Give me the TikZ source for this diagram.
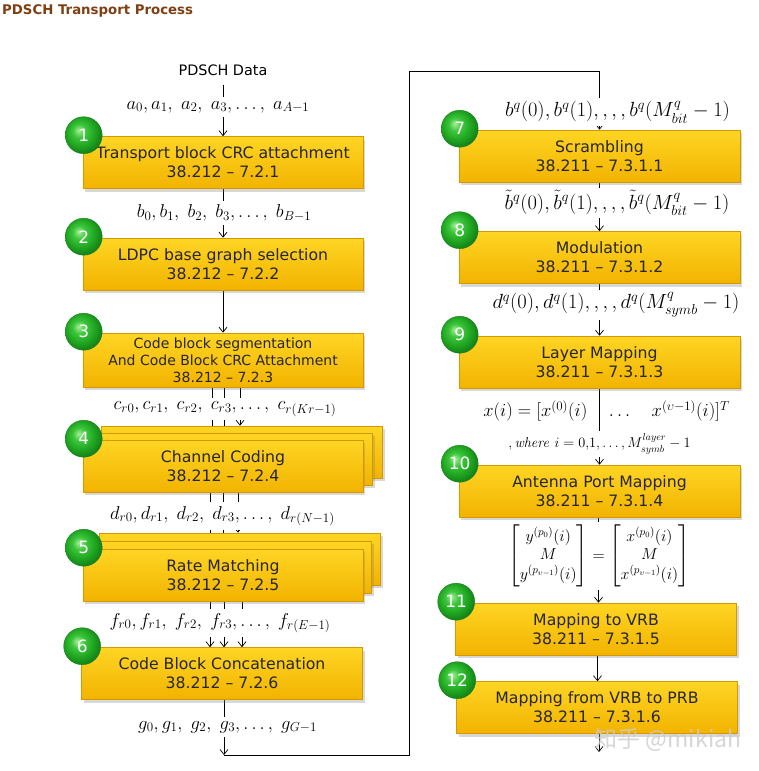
\RequirePackage{fix-cm}
\documentclass[tikz,border=0pt]{standalone}
\usepackage{amsmath}
\usepackage[no-math]{fontspec}
\setmainfont{DejaVu Sans}
\newfontfamily\cjkfont{Noto Sans CJK SC}
\usetikzlibrary{arrows.meta,shadows,backgrounds}
\definecolor{titlebrown}{HTML}{7F3F12}
\definecolor{boxtop}{HTML}{FFD524}
\definecolor{boxbot}{HTML}{F2B300}
\definecolor{boxedge}{HTML}{D29A00}
\definecolor{gA}{HTML}{A6EE96}
\definecolor{gB}{HTML}{3CC63C}
\definecolor{gC}{HTML}{1FA31F}
\definecolor{gD}{HTML}{13801A}
\pgfdeclareradialshading{greenball}{\pgfpoint{-7bp}{7bp}}{color(0bp)=(gA); color(9bp)=(gB); color(20bp)=(gC); color(28bp)=(gD); color(50bp)=(gD)}
\tikzset{
  boxbase/.style={rectangle, top color=boxtop, bottom color=boxbot, draw=boxedge,
    line width=0.6pt, inner sep=0pt,
    drop shadow={shadow xshift=2pt, shadow yshift=-3pt, opacity=0.3}},
  procbox/.style={boxbase, minimum width=280pt, minimum height=52pt, align=center,
    text=black!85, font=\fontsize{15.7}{19}\selectfont},
  layerbox/.style={boxbase, minimum width=281pt, minimum height=52pt},
  stepnum/.style={circle, minimum size=37pt, inner sep=0pt, shading=greenball,
    draw=gD, line width=0.4pt, text=white, font=\fontsize{17}{17}\selectfont},
  lbl/.style={fill=white, inner xsep=1.5pt, inner ysep=4pt, font=\fontsize{18.6}{22}\selectfont},
  rlbl/.style={fill=white, inner xsep=1.5pt, inner ysep=2.5pt, font=\fontsize{20.5}{24}\selectfont},
  conn/.style={line width=0.7pt, draw=black},
  arr/.style={conn, -{Straight Barb[length=5pt,width=8pt]}},
}
\begin{document}
\begin{tikzpicture}[x=1pt,y=-1pt]
\useasboundingbox (0,0) rectangle (759,771);

\node[anchor=west, font=\bfseries\fontsize{13.3}{15}\selectfont, text=titlebrown, inner sep=0pt] (title) at (2,11) {PDSCH Transport Process};

% ---------- left column ----------
\node[fill=white, inner xsep=2pt, inner ysep=9pt, font=\fontsize{14.4}{17}\selectfont] (pdsch) at (223,70) {PDSCH Data};

\node[procbox] (b1) at (223,162.5) {Transport block CRC attachment\\38.212 -- 7.2.1};
\node[procbox] (b2) at (223,264) {LDPC base graph selection\\38.212 -- 7.2.2};
\node[procbox, minimum height=54pt, font=\fontsize{14}{17}\selectfont] (b3) at (223,360) {Code block segmentation\\And Code Block CRC Attachment\\38.212 -- 7.2.3};

\node[layerbox] (b4c) at (242,452) {};
\node[layerbox] (b4b) at (232,459) {};
\node[procbox] (b4) at (223,466) {Channel Coding\\38.212 -- 7.2.4};

\node[layerbox] (b5c) at (240,559) {};
\node[layerbox] (b5b) at (231,567) {};
\node[procbox] (b5) at (223,575) {Rate Matching\\38.212 -- 7.2.5};

\node[procbox, minimum width=281pt] (b6) at (222,673.5) {Code Block Concatenation\\38.212 -- 7.2.6};

% ---------- right column ----------
\node[procbox, minimum width=281pt] (b7) at (599.5,156) {Scrambling\\38.211 -- 7.3.1.1};
\node[procbox, minimum width=281pt] (b8) at (599.5,257.5) {Modulation\\38.211 -- 7.3.1.2};
\node[procbox, minimum width=281pt] (b9) at (599.5,362) {Layer Mapping\\38.211 -- 7.3.1.3};
\node[procbox, minimum width=281pt] (b10) at (599.5,491) {Antenna Port Mapping\\38.211 -- 7.3.1.4};
\node[procbox, minimum width=281pt] (b11) at (596,629) {Mapping to VRB\\38.211 -- 7.3.1.5};
\node[procbox, minimum width=281pt] (b12) at (597,707.5) {Mapping from VRB to PRB\\38.211 -- 7.3.1.6};

% ---------- labels ----------
\node[lbl] (la) at (218,107) {$a_0, a_1,\; a_2,\; a_3, \ldots,\; a_{A-1}$};
\node[lbl] (lb) at (224,213) {$b_0, b_1,\; b_2,\; b_3, \ldots,\; b_{B-1}$};
\node[lbl] (lc) at (225,409) {$c_{r0}, c_{r1},\; c_{r2},\; c_{r3}, \ldots,\; c_{r(Kr-1)}$};
\node[lbl] (ld) at (222.5,516) {$d_{r0}, d_{r1},\; d_{r2},\; d_{r3}, \ldots,\; d_{r(N-1)}$};
\node[lbl] (lf) at (220,623) {$f_{r0}, f_{r1},\; f_{r2},\; f_{r3}, \ldots,\; f_{r(E-1)}$};
\node[lbl] (lg) at (227.5,727) {$g_0, g_1,\; g_2,\; g_3, \ldots,\; g_{G-1}$};

\node[rlbl] (lbq) at (617.5,112) {$b^q(0), b^q(1),,,, b^q(M^q_{bit}-1)$};
\node[rlbl] (lbt) at (617,203) {$\tilde b^q(0), \tilde b^q(1),,,, \tilde b^q(M^q_{bit}-1)$};
\node[rlbl] (ldq) at (616,305) {$d^q(0), d^q(1),,,, d^q(M^q_{symb}-1)$};
\node[inner sep=1.5pt, font=\fontsize{18.5}{22}\selectfont] (lx) at (606.5,411) {$x(i) = [x^{(0)}(i)\quad \ldots\quad x^{(\upsilon-1)}(i)]^T$};
\node[rlbl, font=\fontsize{14.3}{17}\selectfont] (lw) at (599.5,444) {$,\mathit{where}\ i = 0{,}1, \ldots, M^{layer}_{symb}-1$};
\node[rlbl, font=\fontsize{16}{18.5}\selectfont] (lm) at (599,556) {$\begin{bmatrix} y^{(p_0)}(i)\\ M\\ y^{(p_{\upsilon-1})}(i)\end{bmatrix} = \begin{bmatrix} x^{(p_0)}(i)\\ M\\ x^{(p_{\upsilon-1})}(i)\end{bmatrix}$};

% ---------- step numbers ----------
\foreach \n in {1,...,12}{
  \node[stepnum] (n\n) at ([xshift=1pt,yshift=1pt]b\n.north west) {\n};
}

% ---------- connectors ----------
\coordinate (corner) at (224,755);
\coordinate (loopbl) at (409,755);
\coordinate (looptl) at (409,71);
\coordinate (endpt) at (599,752);
\begin{scope}[on background layer]
\fill[white] (0,0) rectangle (759,771);
\draw[arr] (pdsch) -- (b1.north);
\draw[arr] (b1.south) -- (b2.north);
\draw[arr] (b2.south) -- (b3.north);
\draw[arr] ([xshift=-11pt]b3.south) -- ([xshift=-11pt]b3.south |- b4.north);
\draw[arr] ([xshift=1pt]b3.south) -- ([xshift=1pt]b3.south |- b4b.north);
\draw[arr] ([xshift=17pt]b3.south) -- ([xshift=17pt]b3.south |- b4c.north);
\draw[arr] ([xshift=-13pt]b4.south) -- ([xshift=-13pt]b4.south |- b5.north);
\draw[arr] (b4.south) -- (b4.south |- b5b.north);
\draw[arr] ([xshift=15pt]b4.south) -- ([xshift=15pt]b4.south |- b5c.north);
\draw[arr] ([xshift=-13pt]b5.south) -- ([xshift=-13pt]b5.south |- b6.north);
\draw[arr] ([xshift=1pt]b5.south) -- ([xshift=1pt]b5.south |- b6.north);
\draw[arr] ([xshift=19pt]b5.south) -- ([xshift=19pt]b5.south |- b6.north);
\draw[arr] (b6.south -| corner) -- (corner);
\draw[conn] (corner) -- (loopbl) -- (looptl);
\draw[arr] (looptl) -| (b7.north);
\draw[arr] (b7.south) -- (b8.north);
\draw[arr] (b8.south) -- (b9.north);
\draw[arr] (b9.south) -- (b10.north);
\draw[arr] ([xshift=-1pt]b10.south) -- ([xshift=-1pt]b10.south |- b11.north);
\draw[arr] ([xshift=1.5pt]b11.south) -- ([xshift=1.5pt]b11.south |- b12.north);
\draw[arr] (b12.south -| endpt) -- (endpt);
\end{scope}

% ---------- watermark ----------
\node[font=\cjkfont\fontsize{23}{26}\selectfont, text=gray!40, opacity=0.8, inner sep=0pt] (wm) at (668,740) {知乎 @mikiah};
\end{tikzpicture}
\end{document}
